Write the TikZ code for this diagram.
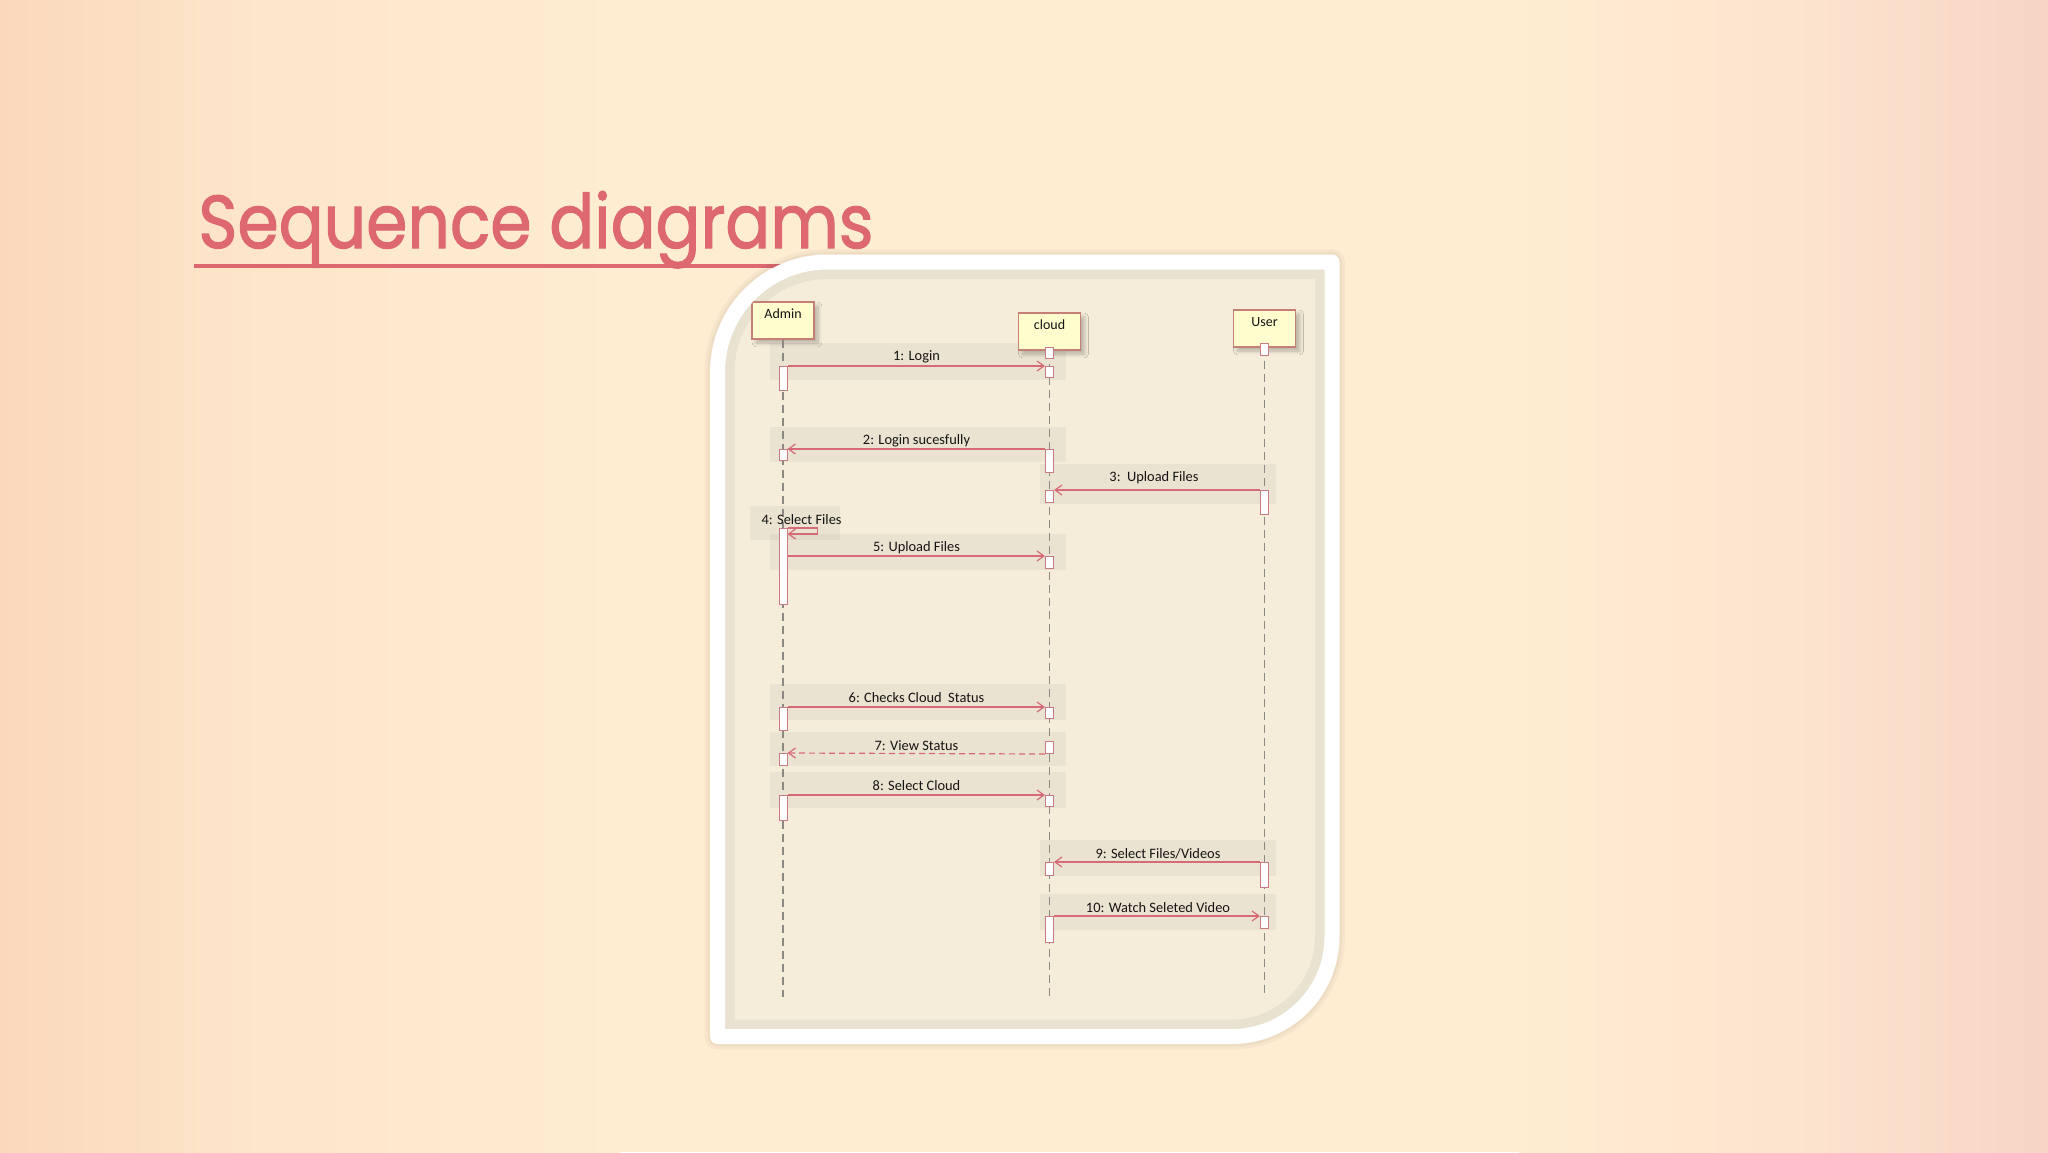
\documentclass[tikz,border=0pt]{standalone}
\usepackage{fontspec}
\setmainfont{Carlito}
\newfontfamily\titlefont[BoldFont={Poppins}, BoldFeatures={FakeBold=1.6}]{Poppins}
\usetikzlibrary{arrows.meta,shadows.blur}
\definecolor{titlec}{RGB}{221,104,112}
\definecolor{bgA}{RGB}{251,216,188}
\definecolor{bgB}{RGB}{253,230,202}
\definecolor{bgC}{RGB}{254,237,209}
\definecolor{bgD}{RGB}{252,227,206}
\definecolor{bgE}{RGB}{247,212,196}
\definecolor{innerc}{RGB}{245,237,218}
\definecolor{msgc}{RGB}{214,106,118}
\definecolor{barc}{RGB}{201,123,131}
\definecolor{headfill}{RGB}{255,252,206}
\definecolor{headdraw}{RGB}{196,128,118}
\definecolor{lifec}{RGB}{140,136,130}
\definecolor{txtc}{RGB}{20,20,20}
\tikzset{
  headbox/.style={draw=headdraw, fill=headfill, line width=0.6pt, minimum width=31pt, minimum height=18.5pt, inner sep=0pt,
    font=\fontsize{7}{8}\selectfont, text=txtc, text height=4.5pt, text depth=6.5pt,
    blur shadow={shadow xshift=2pt, shadow yshift=-2pt, shadow opacity=25, shadow blur steps=6}},
  actbar/.style={draw=barc, fill=white, line width=0.5pt, minimum width=4pt, inner sep=0pt, anchor=north},
  msg/.style={draw=msgc, line width=0.6pt, -{Straight Barb[length=3.5pt,width=5pt]}},
  msglbl/.style={font=\fontsize{7.2}{8}\selectfont, text=txtc, inner sep=0pt},
  lifeline/.style={draw=lifec, line width=0.7pt, dash pattern=on 4pt off 2.5pt},
  band/.style={fill=black, opacity=0.04}
}
\newcommand\abar[4]{\node[actbar, minimum height={(#4-#3)*0.5pt}] (#1) at (#2,#3) {};}
\begin{document}
\begin{tikzpicture}[x=0.5pt, y=-0.5pt]
\useasboundingbox (0,0) rectangle (2048,1152);
% background
\shade[left color=bgA, right color=bgB] (0,0) rectangle (260,1152);
\shade[left color=bgB, right color=bgC] (259,0) rectangle (620,1152);
\fill[bgC] (619,0) rectangle (1520,1152);
\shade[left color=bgC, right color=bgD] (1519,0) rectangle (1820,1152);
\shade[left color=bgD, right color=bgE] (1819,0) rectangle (2048,1152);
% title
\draw[titlec, line width=2.25pt] (194,266) -- (790,266);
\node[anchor=base west, inner sep=0pt, text=titlec] (title) at (198,248) {\resizebox{337.5pt}{28.5pt}{\titlefont\bfseries Sequence diagrams}};
% frame halo
\draw[black, opacity=0.03, line width=13pt, line join=round] (717.5,1036.5) -- (717.5,372) .. controls (717.5,311.25) and (766.75,262) .. (827.5,262) -- (1332,262) -- (1332,936.5) .. controls (1332,991.7) and (1287.2,1036.5) .. (1232,1036.5) -- cycle;
\draw[black, opacity=0.03, line width=10pt, line join=round] (717.5,1036.5) -- (717.5,372) .. controls (717.5,311.25) and (766.75,262) .. (827.5,262) -- (1332,262) -- (1332,936.5) .. controls (1332,991.7) and (1287.2,1036.5) .. (1232,1036.5) -- cycle;
% inner fill
\fill[innerc] (717.5,1036.5) -- (717.5,372) .. controls (717.5,311.25) and (766.75,262) .. (827.5,262) -- (1332,262) -- (1332,936.5) .. controls (1332,991.7) and (1287.2,1036.5) .. (1232,1036.5) -- cycle;
\begin{scope}
\clip (717.5,1036.5) -- (717.5,372) .. controls (717.5,311.25) and (766.75,262) .. (827.5,262) -- (1332,262) -- (1332,936.5) .. controls (1332,991.7) and (1287.2,1036.5) .. (1232,1036.5) -- cycle;
\draw[black, opacity=0.045, line width=17pt, line join=round] (717.5,1036.5) -- (717.5,372) .. controls (717.5,311.25) and (766.75,262) .. (827.5,262) -- (1332,262) -- (1332,936.5) .. controls (1332,991.7) and (1287.2,1036.5) .. (1232,1036.5) -- cycle;
\end{scope}
% message shadow bands
\fill[band] (770,343) rectangle (1066,380);
\fill[band] (770,427) rectangle (1066,462);
\fill[band] (1040,464) rectangle (1276,504);
\fill[band] (750,506) rectangle (840,540);
\fill[band] (770,534) rectangle (1066,570);
\fill[band] (770,684) rectangle (1066,720);
\fill[band] (770,732) rectangle (1066,766);
\fill[band] (770,772) rectangle (1066,808);
\fill[band] (1040,840) rectangle (1276,876);
\fill[band] (1040,894) rectangle (1276,930);
% head boxes
\node[headbox] (admin) at (783,320.5) {Admin};
\node[headbox] (cloud) at (1049.5,331.5) {cloud};
\node[headbox] (user) at (1264.5,328.5) {User};
% lifelines
\coordinate (aend) at (783,997);
\coordinate (cend) at (1049.5,997);
\coordinate (uend) at (1264.5,997);
\draw[lifeline] (admin.south) -- (aend);
\draw[lifeline] (cloud.south) -- (cend);
\draw[lifeline] (user.south) -- (uend);
% activation bars
\abar{a1}{783}{366}{390}
\abar{a2}{783}{449}{460}
\abar{a4}{783}{528}{604}
\abar{a6}{783}{707}{730}
\abar{a7}{783}{753}{765}
\abar{a8}{783}{795}{820}
\abar{c0}{1049.5}{347}{358}
\abar{c1}{1049.5}{366}{377}
\abar{c2}{1049.5}{449}{472}
\abar{c3}{1049.5}{490}{502}
\abar{c5}{1049.5}{556}{568}
\abar{c6}{1049.5}{707}{718}
\abar{c7}{1049.5}{741}{753}
\abar{c8}{1049.5}{795}{806}
\abar{c9}{1049.5}{862}{875}
\abar{c10}{1049.5}{916}{942}
\abar{u0}{1264.5}{343}{355}
\abar{u3}{1264.5}{490}{514}
\abar{u9}{1264.5}{862}{887}
\abar{u10}{1264.5}{916}{928}
% messages
\draw[msg] (a1.north east) -- (c1.north west);
\draw[msg] (c2.north west) -- (a2.north east);
\draw[msg] (u3.north west) -- (c3.north east);
\draw[msg] (a4.north east) -- ++(30,0) -- ++(0,6) -- ++(-30,0);
\draw[msg] (c5.north west -| a4.east) -- (c5.north west);
\draw[msg] (a6.north east) -- (c6.north west);
\draw[msg, dash pattern=on 3pt off 2pt] (c7.south west) -- (a7.north east);
\draw[msg] (a8.north east) -- (c8.north west);
\draw[msg] (u9.north west) -- (c9.north east);
\draw[msg] (c10.north east) -- (u10.north west);
% labels
\node[msglbl] (l1) at (916.5,357) {1: Login};
\node[msglbl] (l2) at (916.5,441) {2: Login sucesfully};
\node[msglbl] (l3) at (1154,478) {3:\ \ Upload Files};
\node[msglbl] (l4) at (801.6,520) {4: Select Files};
\node[msglbl] (l5) at (916.5,548) {5: Upload Files};
\node[msglbl] (l6) at (916.5,698) {6: Checks Cloud\ \ Status};
\node[msglbl] (l7) at (916.5,746) {7: View Status};
\node[msglbl] (l8) at (916.5,786) {8: Select Cloud};
\node[msglbl] (l9) at (1158,854) {9: Select Files/Videos};
\node[msglbl] (l10) at (1158,908) {10: Watch Seleted Video};
% white frame
\draw[white, line width=7.5pt, line join=round] (717.5,1036.5) -- (717.5,372) .. controls (717.5,311.25) and (766.75,262) .. (827.5,262) -- (1332,262) -- (1332,936.5) .. controls (1332,991.7) and (1287.2,1036.5) .. (1232,1036.5) -- cycle;
\end{tikzpicture}
\end{document}
